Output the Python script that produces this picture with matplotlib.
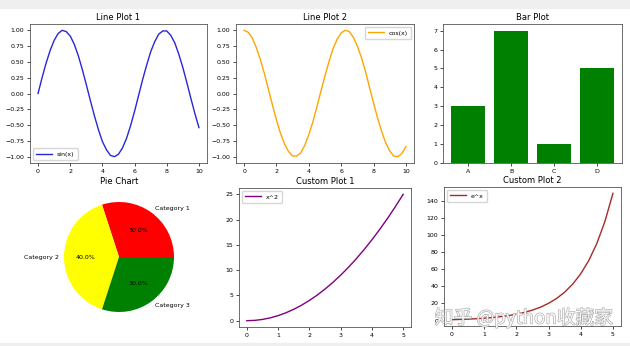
import matplotlib.pyplot as plt
import matplotlib.patheffects as pe
from matplotlib.patches import Rectangle

# sampled curves
x_wave = [0.0, 0.25, 0.5, 0.75, 1.0, 1.25, 1.5, 1.75, 2.0, 2.25, 2.5, 2.75, 3.0, 3.25,
          3.5, 3.75, 4.0, 4.25, 4.5, 4.75, 5.0, 5.25, 5.5, 5.75, 6.0, 6.25, 6.5, 6.75,
          7.0, 7.25, 7.5, 7.75, 8.0, 8.25, 8.5, 8.75, 9.0, 9.25, 9.5, 9.75, 10.0]
y_sin = [0.00, 0.25, 0.48, 0.68, 0.84, 0.95, 1.00, 0.98, 0.91, 0.78, 0.60, 0.38, 0.14, -0.11,
         -0.35, -0.57, -0.76, -0.89, -0.98, -1.00, -0.96, -0.86, -0.71, -0.51, -0.28, -0.03, 0.22, 0.45,
         0.66, 0.82, 0.94, 0.99, 0.99, 0.92, 0.80, 0.62, 0.41, 0.17, -0.08, -0.32, -0.54]
y_cos = [1.00, 0.97, 0.88, 0.73, 0.54, 0.32, 0.07, -0.18, -0.42, -0.63, -0.80, -0.92, -0.99, -0.99,
         -0.94, -0.82, -0.65, -0.45, -0.21, 0.04, 0.28, 0.51, 0.71, 0.86, 0.96, 1.00, 0.98, 0.89,
         0.75, 0.57, 0.35, 0.10, -0.15, -0.39, -0.60, -0.78, -0.91, -0.99, -1.00, -0.95, -0.84]

x_grow = [0.0, 0.25, 0.5, 0.75, 1.0, 1.25, 1.5, 1.75, 2.0, 2.25, 2.5, 2.75, 3.0, 3.25,
          3.5, 3.75, 4.0, 4.25, 4.5, 4.75, 5.0]
y_square = [0.00, 0.06, 0.25, 0.56, 1.00, 1.56, 2.25, 3.06, 4.00, 5.06, 6.25, 7.56, 9.00, 10.56,
            12.25, 14.06, 16.00, 18.06, 20.25, 22.56, 25.00]
y_exp = [1.00, 1.28, 1.65, 2.12, 2.72, 3.49, 4.48, 5.75, 7.39, 9.49, 12.18, 15.64, 20.09, 25.79,
         33.12, 42.52, 54.60, 70.11, 90.02, 115.58, 148.41]

bar_cats = ['A', 'B', 'C', 'D']
bar_vals = [3, 7, 1, 5]

pie_labels = ['Category 1', 'Category 2', 'Category 3']
pie_sizes = [30, 40, 30]
pie_colors = ['red', 'yellow', 'green']

plt.rcParams['font.size'] = 4.5
plt.rcParams['axes.linewidth'] = 0.6
plt.rcParams['axes.edgecolor'] = '#555555'
for k in ('xtick', 'ytick'):
    plt.rcParams[k + '.major.size'] = 2
    plt.rcParams[k + '.major.width'] = 0.5
    plt.rcParams[k + '.major.pad'] = 2
    plt.rcParams[k + '.labelsize'] = 4.5

fig = plt.figure(figsize=(6.3, 3.46), dpi=100)
W, H = 630, 346

def box(l, t, r, b):
    return [l / W, 1 - b / H, (r - l) / W, (b - t) / H]

# grey bars of the page around the figure
fig.patches.append(Rectangle((0, 1 - 8 / H), 1, 8 / H, transform=fig.transFigure,
                             color='#efefef', zorder=-1))
fig.patches.append(Rectangle((0, 0), 1, 3 / H, transform=fig.transFigure,
                             color='#efefef', zorder=-1))

title_kw = dict(fontsize=6, pad=3)
leg_kw = dict(fontsize=4.5, handlelength=2.5, borderpad=0.5)

ax1 = fig.add_axes(box(30, 24, 207, 163))
ax1.plot(x_wave, y_sin, color='#2727d8', lw=1.0, label='sin(x)')
ax1.set_title('Line Plot 1', **title_kw)
ax1.legend(loc='lower left', **leg_kw)

ax2 = fig.add_axes(box(236, 24, 414, 163))
ax2.plot(x_wave, y_cos, color='orange', lw=1.0, label='cos(x)')
ax2.set_title('Line Plot 2', **title_kw)
ax2.legend(loc='upper right', **leg_kw)

ax3 = fig.add_axes(box(443, 24, 622, 163))
ax3.bar(bar_cats, bar_vals, color='green')
ax3.set_title('Bar Plot', **title_kw)

ax4 = fig.add_axes(box(50.25, 188.25, 187.75, 325.75))
ax4.pie(pie_sizes, labels=pie_labels, colors=pie_colors, autopct='%1.1f%%',
        textprops={'fontsize': 4.5})
ax4.set_title('Pie Chart', **title_kw)

ax5 = fig.add_axes(box(239, 188, 411, 327))
ax5.plot(x_grow, y_square, color='purple', lw=1.0, label='x^2')
ax5.set_title('Custom Plot 1', **title_kw)
ax5.legend(loc='upper left', **leg_kw)

ax6 = fig.add_axes(box(444, 187, 621, 326))
ax6.plot(x_grow, y_exp, color='brown', lw=1.0, label='e^x')
ax6.set_title('Custom Plot 2', **title_kw)
ax6.legend(loc='upper left', **leg_kw)

# site watermark
fig.text(524 / W, 1 - 318 / H, '知乎 @python收藏家', ha='center', va='center',
         fontsize=13.5, color='white', alpha=0.85,
         family=['Noto Sans CJK SC', 'DejaVu Sans'],
         path_effects=[pe.withStroke(linewidth=0.8, foreground='#999999')])

fig.savefig('out.png', dpi=100)
